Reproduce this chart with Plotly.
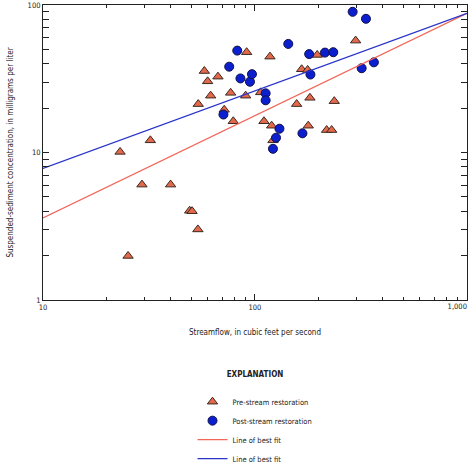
import plotly.graph_objects as go

# Pre-stream restoration (streamflow cfs, SSC mg/L)
pre_flow = [23.1, 32.1, 29.3, 40.0, 49.2, 50.5, 53.8, 25.2, 54.0, 57.7, 59.8, 61.8, 66.9,
            71.6, 76.8, 79.0, 91.4, 90.4, 106.4, 110.3, 117.7, 119.9, 121.6, 157.3, 166.1,
            177.3, 181.7, 178.4, 196.7, 217.9, 230.1, 236.7, 298.5]
pre_ssc = [10.1, 12.1, 6.06, 6.06, 4.03, 4.0, 3.01, 1.99, 21.3, 35.7, 30.4, 24.3, 32.7,
           19.5, 25.4, 16.3, 47.9, 24.3, 25.6, 16.3, 44.7, 15.2, 12.1, 21.3, 36.7,
           36.3, 23.5, 15.2, 45.9, 14.2, 14.2, 22.3, 57.4]

# Post-stream restoration
post_flow = [71.0, 75.6, 82.5, 85.4, 94.7, 96.8, 112.3, 112.3, 143.6, 180.2, 182.7, 213.9,
             234.1, 289.0, 334.0, 318.7, 364.0, 130.5, 125.7, 121.6, 167.5]
post_ssc = [18.1, 38.2, 49.1, 31.8, 30.2, 34.0, 25.2, 22.6, 54.5, 46.5, 33.8, 47.6,
            47.9, 90.0, 80.7, 37.3, 40.9, 14.5, 12.6, 10.6, 13.5]

# Lines of best fit (end points)
fit_flow = [10, 1000]
pre_fit = [3.6, 88.0]
post_fit = [7.8, 88.0]

x_tickvals = [10, 100, 1000]
x_ticktext = ["10", "100", ""]
x_last_tickval = [1000]
x_last_ticktext = ["1,000"]
y_tickvals = [1, 10, 100]
y_ticktext = ["1", "10", "100"]

FONT = "DejaVu Sans Condensed, Liberation Sans Narrow, Roboto, sans-serif"
PRE_COLOR = "#E4694C"
POST_COLOR = "#0B1FCF"

fig = go.Figure()
fig.add_trace(go.Scatter(
    x=pre_flow, y=pre_ssc, mode="markers", name="Pre-stream restoration",
    marker=dict(symbol="triangle-up", size=9, color=PRE_COLOR,
                line=dict(color="#3a2a20", width=1))))
fig.add_trace(go.Scatter(
    x=post_flow, y=post_ssc, mode="markers", name="Post-stream restoration",
    marker=dict(symbol="circle", size=9, color=POST_COLOR,
                line=dict(color="#10104a", width=1))))
fig.add_trace(go.Scatter(
    x=fit_flow, y=pre_fit, mode="lines", name="Line of best fit",
    line=dict(color="#F2675A", width=1.3)))
fig.add_trace(go.Scatter(
    x=fit_flow, y=post_fit, mode="lines", name="Line of best fit",
    line=dict(color="#2A35C8", width=1.3)))
# empty helper trace so the overlay axis carrying the "1,000" label is drawn
fig.add_trace(go.Scatter(x=[], y=[], xaxis="x2", yaxis="y", showlegend=False,
                         hoverinfo="skip"))

axis_common = dict(
    type="log", showgrid=False, zeroline=False, showline=True, linecolor="#222",
    linewidth=1, ticks="inside", ticklen=6, tickcolor="#222", mirror="allticks",
    tickfont=dict(family=FONT, size=7.5, color="#222"),
    minor=dict(ticks="inside", ticklen=3, tickcolor="#222", showgrid=False, dtick="D1"),
)

fig.update_layout(
    width=474, height=463,
    margin=dict(l=43, r=7, t=5, b=163, autoexpand=False),
    plot_bgcolor="white", paper_bgcolor="white",
    font=dict(family=FONT, size=8, color="#222"),
    xaxis=dict(axis_common, range=[1, 3.0004], tickvals=x_tickvals, ticktext=x_ticktext,
               title=dict(text="Streamflow, in cubic feet per second",
                          font=dict(family=FONT, size=8), standoff=18)),
    xaxis2=dict(type="log", range=[1, 3.0004], overlaying="x", anchor="y", side="bottom",
                showgrid=False, zeroline=False, showline=False, ticks="",
                tickvals=x_last_tickval, ticktext=x_last_ticktext,
                ticklabelposition="outside left",
                tickfont=dict(family=FONT, size=7.5, color="#222")),
    yaxis=dict(axis_common, range=[0, 2.0004], tickvals=y_tickvals, ticktext=y_ticktext,
               title=dict(text="Suspended-sediment concentration, in milligrams per liter",
                          font=dict(family=FONT, size=8), standoff=12)),
    showlegend=True,
    legend=dict(
        x=0.5, xanchor="center", y=-0.225, yanchor="top",
        bgcolor="rgba(0,0,0,0)",
        title=dict(text="<b>EXPLANATION</b><br> ", side="top center",
                   font=dict(family=FONT, size=8)),
        font=dict(family=FONT, size=7.5, color="#222"),
        itemwidth=30,
    ),
)

fig.write_html("out.html")
